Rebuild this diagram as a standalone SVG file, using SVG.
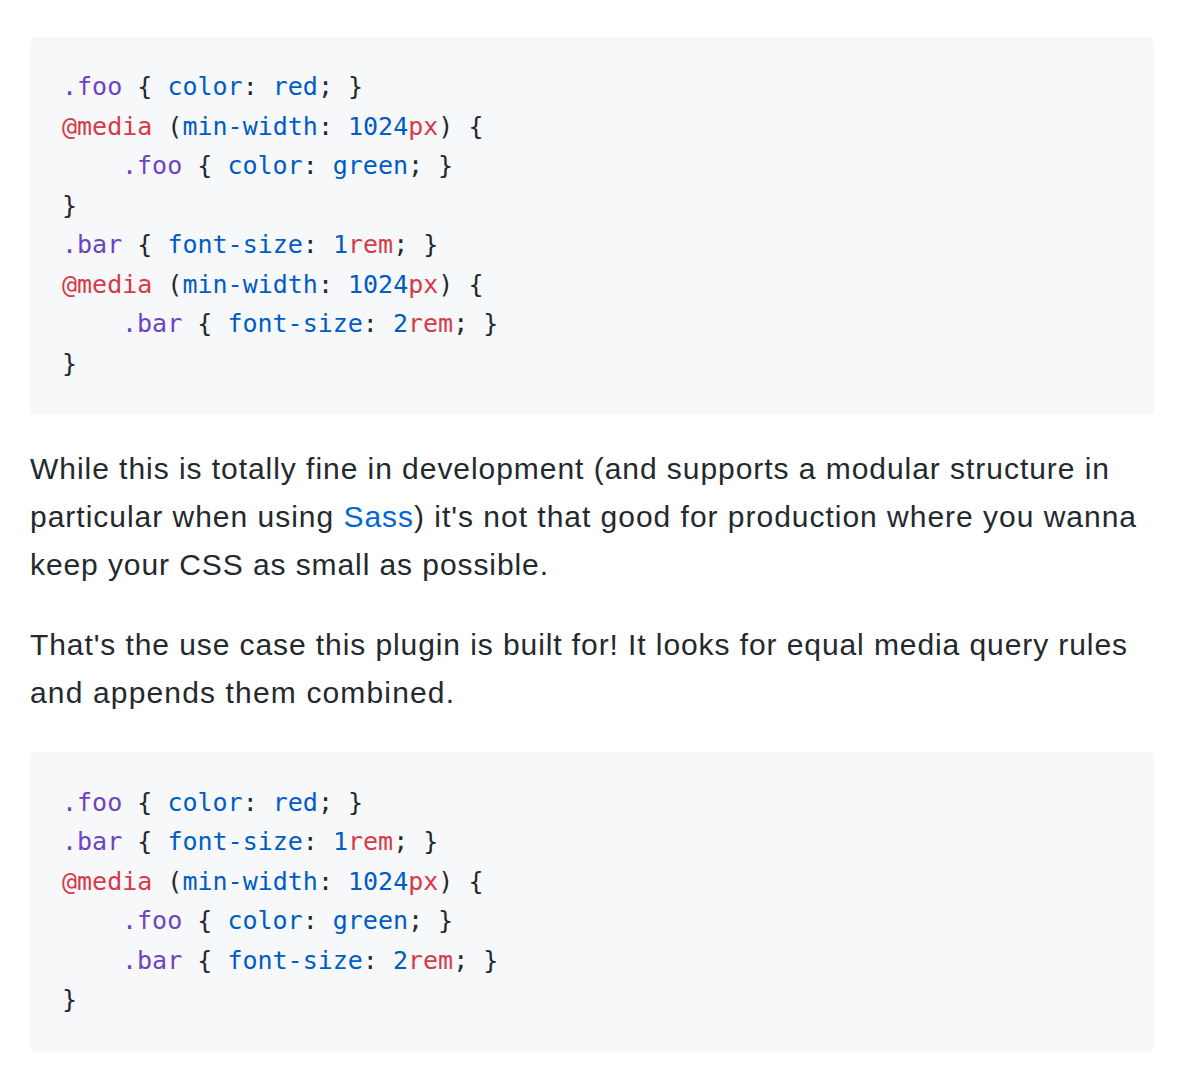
<svg xmlns="http://www.w3.org/2000/svg" width="1192" height="1086" viewBox="0 0 1192 1086">
<style>
.code{font-family:"DejaVu Sans Mono",monospace;font-size:25px;fill:#24292e}
.p{fill:#6f42c1}.b{fill:#005cc5}.r{fill:#d73a49}
.t{font-family:"Liberation Sans",Arial,sans-serif;font-size:30px;fill:#24292e}
.blk{fill:#f6f8fa}
</style>
<rect width="1192" height="1086" fill="#fff"/>
<rect class="blk" x="30" y="37" width="1124" height="378" rx="6"/>
<rect class="blk" x="30" y="752" width="1124" height="300" rx="6"/>
<g class="code" xml:space="preserve">
<text x="62" y="95"><tspan class="p">.foo</tspan> { <tspan class="b">color</tspan>: <tspan class="b">red</tspan>; }</text>
<text x="62" y="135"><tspan class="r">@media</tspan> (<tspan class="b">min-width</tspan>: <tspan class="b">1024</tspan><tspan class="r">px</tspan>) {</text>
<text x="122" y="174"><tspan class="p">.foo</tspan> { <tspan class="b">color</tspan>: <tspan class="b">green</tspan>; }</text>
<text x="62" y="214">}</text>
<text x="62" y="253"><tspan class="p">.bar</tspan> { <tspan class="b">font-size</tspan>: <tspan class="b">1</tspan><tspan class="r">rem</tspan>; }</text>
<text x="62" y="293"><tspan class="r">@media</tspan> (<tspan class="b">min-width</tspan>: <tspan class="b">1024</tspan><tspan class="r">px</tspan>) {</text>
<text x="122" y="332"><tspan class="p">.bar</tspan> { <tspan class="b">font-size</tspan>: <tspan class="b">2</tspan><tspan class="r">rem</tspan>; }</text>
<text x="62" y="372">}</text>
<text x="62" y="811"><tspan class="p">.foo</tspan> { <tspan class="b">color</tspan>: <tspan class="b">red</tspan>; }</text>
<text x="62" y="850"><tspan class="p">.bar</tspan> { <tspan class="b">font-size</tspan>: <tspan class="b">1</tspan><tspan class="r">rem</tspan>; }</text>
<text x="62" y="890"><tspan class="r">@media</tspan> (<tspan class="b">min-width</tspan>: <tspan class="b">1024</tspan><tspan class="r">px</tspan>) {</text>
<text x="122" y="929"><tspan class="p">.foo</tspan> { <tspan class="b">color</tspan>: <tspan class="b">green</tspan>; }</text>
<text x="122" y="969"><tspan class="p">.bar</tspan> { <tspan class="b">font-size</tspan>: <tspan class="b">2</tspan><tspan class="r">rem</tspan>; }</text>
<text x="62" y="1008">}</text>
</g>
<g class="t">
<text x="30" y="479" textLength="1079">While this is totally fine in development (and supports a modular structure in</text>
<text x="30" y="527" textLength="1106">particular when using <tspan fill="#0366d6">Sass</tspan>) it's not that good for production where you wanna</text>
<text x="30" y="575" textLength="518">keep your CSS as small as possible.</text>
<text x="30" y="655" textLength="1097">That's the use case this plugin is built for! It looks for equal media query rules</text>
<text x="30" y="703" textLength="424">and appends them combined.</text>
</g>
</svg>
